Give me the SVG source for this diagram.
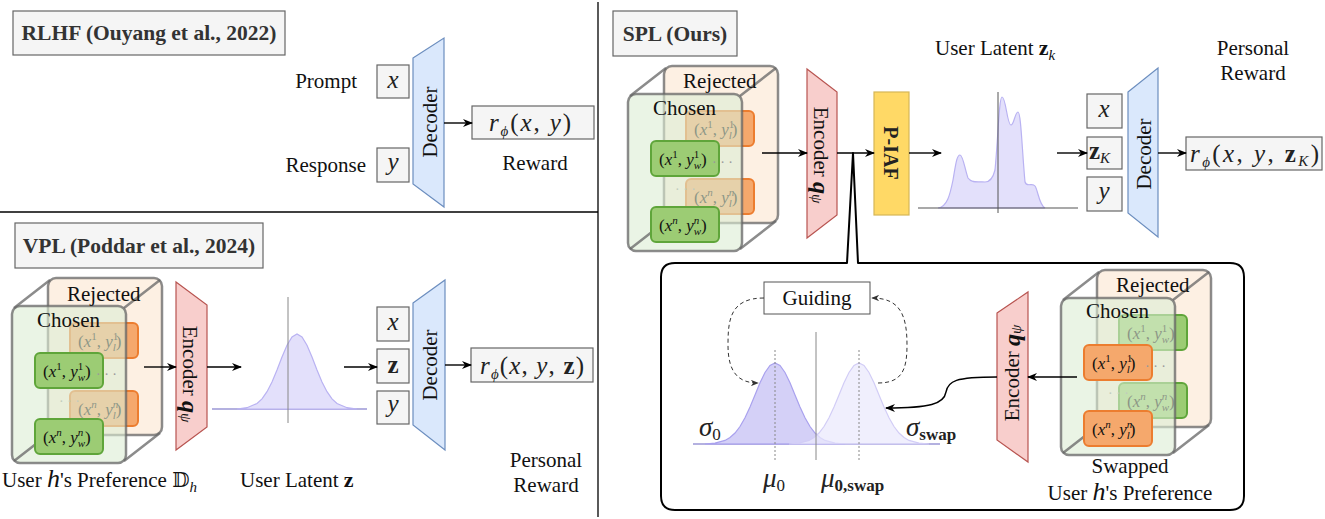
<svg xmlns="http://www.w3.org/2000/svg" width="1325" height="519" viewBox="0 0 1325 519">
<defs>
<marker id="ah" viewBox="0 0 10 8" refX="9" refY="4" markerWidth="10" markerHeight="8" orient="auto" markerUnits="userSpaceOnUse"><path d="M0,0 L10,4 L0,8 L3,4 Z" fill="#000"/></marker>
<marker id="ah2" viewBox="0 0 10 8" refX="9" refY="4" markerWidth="8" markerHeight="6.4" orient="auto" markerUnits="userSpaceOnUse"><path d="M0,0 L10,4 L0,8 L3,4 Z" fill="#333"/></marker>
<style>
.tb{fill:#f5f5f5;stroke:#666;stroke-width:1.2}
.tt{font-family:"Liberation Serif",serif;font-weight:bold;font-size:21.5px;fill:#333;text-anchor:middle}
.t{font-family:"Liberation Serif",serif;font-size:21px;fill:#111}
.c{text-anchor:middle}
.e{text-anchor:end}
.m{font-family:"Liberation Serif",serif;font-style:italic;font-size:25px;fill:#222}
.bz{font-style:normal;font-weight:bold}
.sub{font-size:15px}
.dec{fill:#dae8fc;stroke:#6c8ebf;stroke-width:1.2}
.enc{fill:#f8cecc;stroke:#b85450;stroke-width:1.2}
.piaf{fill:#ffd966;stroke:#d6b656;stroke-width:1.2}
.arr{fill:none;stroke:#000;stroke-width:1.4;marker-end:url(#ah)}
.dash{fill:none;stroke:#333;stroke-width:1;stroke-dasharray:4 3;marker-end:url(#ah2)}
.back{fill:#fdf0e3;stroke:#666;stroke-opacity:.75;stroke-width:2.5}
.front{fill:#dcecd4;fill-opacity:.6;stroke:#666;stroke-opacity:.75;stroke-width:2.5}
.edge{stroke:#666;stroke-opacity:.75;stroke-width:2.5;fill:none}
.gi{fill:#9ccc74;stroke:#5fa53a;stroke-width:2}
.oi{fill:#f5a86c;stroke:#ec7d2f;stroke-width:2}
.it{font-family:"Liberation Serif",serif;font-size:17px;fill:#111}
.i{font-style:italic}
.sp{font-size:11px}
.dots{font-family:"Liberation Serif",serif;font-size:14px;fill:#999}
.gau{fill:#e3e0fb;stroke:#b9b2f2;stroke-width:1.2}
.axis{stroke:#888;stroke-width:1;fill:none}
.div{stroke:#000;stroke-width:1.3}
.box{fill:#f5f5f5;stroke:#666;stroke-width:1.2}
.gm{font-family:"Liberation Serif",serif;font-style:italic;font-size:27px;fill:#222}
.gs{font-size:17px;font-style:normal}
</style>
</defs>

<g id="dividers">
<line class="div" x1="598" y1="2" x2="598" y2="517"/>
<line class="div" x1="0" y1="212" x2="598" y2="212"/>
</g>

<!-- ===== RLHF ===== -->
<g id="rlhf-title"><rect class="tb" x="13" y="11" width="272" height="44"/><text class="tt" x="149" y="40">RLHF (Ouyang et al., 2022)</text></g>
<g id="rlhf-prompt"><text class="t e" x="357" y="88">Prompt</text><rect class="box" x="377" y="65" width="32" height="33"/><text class="m c" x="393" y="88">x</text></g>
<g id="rlhf-response"><text class="t e" x="366" y="172">Response</text><rect class="box" x="377" y="148" width="32" height="34"/><text class="m c" x="393" y="170">y</text></g>
<g id="rlhf-decoder"><polygon class="dec" points="413,58 444,38 444,207 413,184"/><text class="t c" dominant-baseline="central" transform="translate(430,122) rotate(-90)">Decoder</text></g>
<g id="rlhf-reward"><rect class="box" x="472" y="106" width="122" height="33"/><text class="m" x="489" y="131" textLength="82" lengthAdjust="spacing">r<tspan class="sub" dy="5">ϕ</tspan><tspan font-style="normal" dy="-5">(</tspan>x<tspan font-style="normal">, </tspan>y<tspan font-style="normal">)</tspan></text><text class="t c" x="535" y="170">Reward</text></g>

<!-- ===== VPL ===== -->
<g id="vpl-title"><rect class="tb" x="15" y="223" width="248" height="45"/><text class="tt" x="139" y="253">VPL (Poddar et al., 2024)</text></g>

<g id="vpl-preference" transform="translate(12,306)">
<rect class="back" x="36" y="-28" width="114" height="157" rx="8"/>
<rect class="oi" x="58" y="17" width="68" height="35" rx="5"/>
<text class="it" x="66" y="41">(<tspan class="i">x</tspan><tspan class="sp" dy="-7">1</tspan><tspan dy="7">, </tspan><tspan class="i">y</tspan><tspan class="sp" dy="-7">1</tspan><tspan class="sp i" dx="-5.5" dy="11">l</tspan><tspan dy="-4">)</tspan></text>
<rect class="oi" x="58" y="85" width="68" height="35" rx="5"/>
<text class="dots" x="47" y="100">· · ·</text>
<text class="it" x="66" y="109">(<tspan class="i">x</tspan><tspan class="sp i" dy="-7">n</tspan><tspan dy="7">, </tspan><tspan class="i">y</tspan><tspan class="sp i" dy="-7">n</tspan><tspan class="sp i" dx="-5.5" dy="11">l</tspan><tspan dy="-4">)</tspan></text>
<rect class="front" x="0" y="0" width="114" height="157" rx="8"/>
<path class="edge" d="M2,2 L38,-26 M112,2 L148,-26 M2,155 L38,127 M112,155 L148,127"/>
<rect class="gi" x="23" y="47" width="68" height="35" rx="5"/>
<text class="it" x="31" y="71">(<tspan class="i">x</tspan><tspan class="sp" dy="-7">1</tspan><tspan dy="7">, </tspan><tspan class="i">y</tspan><tspan class="sp" dy="-7">1</tspan><tspan class="sp i" dx="-5.5" dy="11">w</tspan><tspan dy="-4">)</tspan></text>
<text class="dots" x="84" y="73">· · ·</text>
<rect class="gi" x="23" y="113" width="68" height="35" rx="5"/>
<text class="it" x="31" y="137">(<tspan class="i">x</tspan><tspan class="sp i" dy="-7">n</tspan><tspan dy="7">, </tspan><tspan class="i">y</tspan><tspan class="sp i" dy="-7">n</tspan><tspan class="sp i" dx="-5.5" dy="11">w</tspan><tspan dy="-4">)</tspan></text>
<text class="t" x="55" y="-5">Rejected</text>
<text class="t" x="25" y="21">Chosen</text>
</g>
<g id="vpl-pref-label"><text class="t" x="2" y="487">User <tspan class="i" font-size="26">h</tspan>'s Preference <tspan font-family="DejaVu Serif, DejaVu Sans, serif" font-size="20">𝔻</tspan><tspan class="i sub" dy="5">h</tspan></text></g>

<g id="vpl-encoder"><polygon class="enc" points="176,282 207,305 207,427 176,450"/><text class="t c" dominant-baseline="central" transform="translate(190,374) rotate(90)">Encoder <tspan class="i" font-weight="bold" font-size="24">q</tspan><tspan class="i sub" dy="4">ψ</tspan></text></g>

<g id="vpl-latent">
<line x1="212" y1="409" x2="367" y2="409" stroke="#b4b1e0" stroke-width="2"/>
<polygon class="gau" points="237,409 247,407.7 257,403.5 262,398.9 267,391.7 272,382 277,370 282,357 287,345.3 292,337 297,334 302,337 307,345.3 312,357 317,370 322,382 327,391.7 332,398.9 337,403.5 347,407.7 357,409"/>
<line class="axis" x1="288" y1="297" x2="288" y2="423"/>
<text class="t" x="240" y="487">User Latent <tspan font-weight="bold" font-size="22">z</tspan></text>
</g>

<g id="vpl-inputs">
<rect class="box" x="377" y="307" width="32" height="34"/><text class="m c" x="393" y="330">x</text>
<rect class="box" x="377" y="349" width="32" height="34"/><text class="m c bz" x="393" y="373">z</text>
<rect class="box" x="377" y="391" width="32" height="33"/><text class="m c" x="393" y="412">y</text>
</g>
<g id="vpl-decoder"><polygon class="dec" points="413,303 445,280 445,450 413,425"/><text class="t c" dominant-baseline="central" transform="translate(430,365) rotate(-90)">Decoder</text></g>
<g id="vpl-reward"><rect class="box" x="471" y="348" width="122" height="34"/><text class="m" x="480" y="374" textLength="104" lengthAdjust="spacing">r<tspan class="sub" dy="5">ϕ</tspan><tspan font-style="normal" dy="-5">(</tspan>x<tspan font-style="normal">, </tspan>y<tspan font-style="normal">, </tspan><tspan class="bz">z</tspan><tspan font-style="normal">)</tspan></text>
<text class="t c" x="546" y="467">Personal</text><text class="t c" x="546" y="492">Reward</text></g>

<!-- ===== SPL ===== -->
<g id="spl-title"><rect class="tb" x="613" y="11" width="124" height="45"/><text class="tt" x="675" y="41">SPL (Ours)</text></g>

<g id="spl-preference" transform="translate(628,94)">
<rect class="back" x="36" y="-28" width="114" height="157" rx="8"/>
<rect class="oi" x="58" y="17" width="68" height="35" rx="5"/>
<text class="it" x="66" y="41">(<tspan class="i">x</tspan><tspan class="sp" dy="-7">1</tspan><tspan dy="7">, </tspan><tspan class="i">y</tspan><tspan class="sp" dy="-7">1</tspan><tspan class="sp i" dx="-5.5" dy="11">l</tspan><tspan dy="-4">)</tspan></text>
<rect class="oi" x="58" y="85" width="68" height="35" rx="5"/>
<text class="dots" x="47" y="100">· · ·</text>
<text class="it" x="66" y="109">(<tspan class="i">x</tspan><tspan class="sp i" dy="-7">n</tspan><tspan dy="7">, </tspan><tspan class="i">y</tspan><tspan class="sp i" dy="-7">n</tspan><tspan class="sp i" dx="-5.5" dy="11">l</tspan><tspan dy="-4">)</tspan></text>
<rect class="front" x="0" y="0" width="114" height="157" rx="8"/>
<path class="edge" d="M2,2 L38,-26 M112,2 L148,-26 M2,155 L38,127 M112,155 L148,127"/>
<rect class="gi" x="23" y="47" width="68" height="35" rx="5"/>
<text class="it" x="31" y="71">(<tspan class="i">x</tspan><tspan class="sp" dy="-7">1</tspan><tspan dy="7">, </tspan><tspan class="i">y</tspan><tspan class="sp" dy="-7">1</tspan><tspan class="sp i" dx="-5.5" dy="11">w</tspan><tspan dy="-4">)</tspan></text>
<text class="dots" x="84" y="73">· · ·</text>
<rect class="gi" x="23" y="113" width="68" height="35" rx="5"/>
<text class="it" x="31" y="137">(<tspan class="i">x</tspan><tspan class="sp i" dy="-7">n</tspan><tspan dy="7">, </tspan><tspan class="i">y</tspan><tspan class="sp i" dy="-7">n</tspan><tspan class="sp i" dx="-5.5" dy="11">w</tspan><tspan dy="-4">)</tspan></text>
<text class="t" x="55" y="-6">Rejected</text>
<text class="t" x="25" y="21">Chosen</text>
</g>

<g id="spl-encoder"><polygon class="enc" points="807,69 837,92 837,215 807,238"/><text class="t c" dominant-baseline="central" transform="translate(821,155) rotate(90)">Encoder <tspan class="i" font-weight="bold" font-size="24">q</tspan><tspan class="i sub" dy="4">ψ</tspan></text></g>
<g id="spl-piaf"><rect class="piaf" x="874" y="92" width="35" height="123"/><text class="tt" style="fill:#222;font-size:20px" dominant-baseline="central" transform="translate(891,153) rotate(90)">P-IAF</text></g>

<g id="spl-latent">
<text class="t" x="935" y="55">User Latent <tspan font-weight="bold" font-size="22">z</tspan><tspan class="i sub" dy="5">k</tspan></text>
<path d="M938,208 C947,207 950,195 953,180 C956,162 957,155 960,155 C963,155 965,170 968,178 C972,184 980,181 985,182 C990,182 993,178 995,170 C998,140 999,97 1002,97 C1006,97 1007,125 1011,125 C1014,125 1015,112 1018,112 C1021,112 1022,150 1025,182 C1027,188 1032,182 1035,186 C1038,190 1039,205 1045,208 Z" class="gau"/>
<line x1="918" y1="208" x2="1078" y2="208" stroke="#555" stroke-width="1.2"/>
<line x1="998" y1="92" x2="998" y2="213" stroke="#555" stroke-width="1"/>
</g>

<g id="spl-inputs">
<rect class="box" x="1087" y="94" width="35" height="34"/><text class="m c" x="1104" y="117">x</text>
<rect class="box" x="1087" y="137" width="35" height="32"/><text class="m" x="1089" y="159"><tspan class="bz">z</tspan><tspan class="sub" dy="4">K</tspan></text>
<rect class="box" x="1087" y="177" width="35" height="34"/><text class="m c" x="1104" y="199">y</text>
</g>
<g id="spl-decoder"><polygon class="dec" points="1128,92 1158,68 1158,237 1128,213"/><text class="t c" dominant-baseline="central" transform="translate(1144,154) rotate(-90)">Decoder</text></g>
<g id="spl-reward"><rect class="box" x="1186" y="137" width="136" height="33"/><text class="m" x="1190" y="162" textLength="129" lengthAdjust="spacing">r<tspan class="sub" dy="5">ϕ</tspan><tspan font-style="normal" dy="-5">(</tspan>x<tspan font-style="normal">, </tspan>y<tspan font-style="normal">, </tspan><tspan class="bz">z</tspan><tspan class="sub" dy="4">K</tspan><tspan font-style="normal" dy="-4">)</tspan></text>
<text class="t c" x="1253" y="55">Personal</text><text class="t c" x="1253" y="80">Reward</text></g>

<!-- callout -->
<g id="callout">
<path d="M847,263 L675,263 Q661,263 661,277 L661,496 Q661,510 675,510 L1230,510 Q1244,510 1244,496 L1244,277 Q1244,263 1230,263 L858,263 L853,153 Z" fill="#fff" stroke="#000" stroke-width="2" stroke-linejoin="round"/>
</g>

<g id="guiding"><rect x="764" y="282" width="106" height="32" fill="#fff" stroke="#555" stroke-width="1"/><text class="t c" x="817" y="305">Guiding</text></g>

<g id="swap-distributions">
<line x1="693" y1="444" x2="940" y2="444" stroke="#b4b1e0" stroke-width="2"/>
<polygon points="705,444 715,443.1 725,440.4 730,437.5 735,433 740,426.5 745,417.7 750,406.9 755,394.9 760,382.8 765,372.5 770,365.5 775,363 780,365.5 785,372.5 790,382.8 795,394.9 800,406.9 805,417.7 810,426.5 815,433 820,437.5 825,440.4 835,443.1 845,444" fill="#cdc8f6" fill-opacity=".85" stroke="#a9a1ee" stroke-width="1.2"/>
<polygon points="789,444 799,443.1 809,440.4 814,437.5 819,433 824,426.5 829,417.7 834,406.9 839,394.9 844,382.8 849,372.5 854,365.5 859,363 864,365.5 869,372.5 874,382.8 879,394.9 884,406.9 889,417.7 894,426.5 899,433 904,437.5 909,440.4 919,443.1 929,444" fill="#ebe9fc" fill-opacity=".75" stroke="#d2cdf6" stroke-width="1.2"/>
<line class="axis" x1="816" y1="332" x2="816" y2="460" stroke="#777"/>
<line x1="775" y1="350" x2="775" y2="460" stroke="#888" stroke-width="1" stroke-dasharray="2 2"/>
<line x1="859" y1="350" x2="859" y2="460" stroke="#888" stroke-width="1" stroke-dasharray="2 2"/>
<text class="gm" x="699" y="436">σ<tspan class="gs" dy="4">0</tspan></text>
<text class="gm" x="906" y="436">σ<tspan class="gs" font-weight="bold" dy="4">swap</tspan></text>
<text class="gm" x="763" y="487">μ<tspan class="gs" dy="4">0</tspan></text>
<text class="gm" x="821" y="487">μ<tspan class="gs" font-weight="bold" dy="4">0,swap</tspan></text>
</g>

<g id="swap-encoder"><polygon class="enc" points="997,313 1028,292 1028,462 997,440"/><text class="t c" dominant-baseline="central" transform="translate(1012,373) rotate(-90)">Encoder <tspan class="i" font-weight="bold" font-size="24">q</tspan><tspan class="i sub" dy="4">ψ</tspan></text></g>

<g id="swap-preference" transform="translate(1061,298)">
<rect class="back" x="36" y="-28" width="114" height="157" rx="8"/>
<rect class="gi" x="58" y="17" width="68" height="35" rx="5"/>
<text class="it" x="66" y="41">(<tspan class="i">x</tspan><tspan class="sp" dy="-7">1</tspan><tspan dy="7">, </tspan><tspan class="i">y</tspan><tspan class="sp" dy="-7">1</tspan><tspan class="sp i" dx="-5.5" dy="11">w</tspan><tspan dy="-4">)</tspan></text>
<rect class="gi" x="58" y="85" width="68" height="35" rx="5"/>
<text class="dots" x="47" y="100">· · ·</text>
<text class="it" x="66" y="109">(<tspan class="i">x</tspan><tspan class="sp i" dy="-7">n</tspan><tspan dy="7">, </tspan><tspan class="i">y</tspan><tspan class="sp i" dy="-7">n</tspan><tspan class="sp i" dx="-5.5" dy="11">w</tspan><tspan dy="-4">)</tspan></text>
<rect class="front" x="0" y="0" width="114" height="157" rx="8"/>
<path class="edge" d="M2,2 L38,-26 M112,2 L148,-26 M2,155 L38,127 M112,155 L148,127"/>
<rect class="oi" x="23" y="47" width="68" height="35" rx="5"/>
<text class="it" x="31" y="71">(<tspan class="i">x</tspan><tspan class="sp" dy="-7">1</tspan><tspan dy="7">, </tspan><tspan class="i">y</tspan><tspan class="sp" dy="-7">1</tspan><tspan class="sp i" dx="-5.5" dy="11">l</tspan><tspan dy="-4">)</tspan></text>
<text class="dots" x="84" y="73">· · ·</text>
<rect class="oi" x="23" y="113" width="68" height="35" rx="5"/>
<text class="it" x="31" y="137">(<tspan class="i">x</tspan><tspan class="sp i" dy="-7">n</tspan><tspan dy="7">, </tspan><tspan class="i">y</tspan><tspan class="sp i" dy="-7">n</tspan><tspan class="sp i" dx="-5.5" dy="11">l</tspan><tspan dy="-4">)</tspan></text>
<text class="t" x="55" y="-6">Rejected</text>
<text class="t" x="25" y="20">Chosen</text>
</g>
<g id="swap-label"><text class="t c" x="1130" y="473">Swapped</text><text class="t c" x="1130" y="500">User <tspan class="i" font-size="26">h</tspan>'s Preference</text></g>

<!-- connectors -->
<g id="connectors">
<line class="arr" x1="444" y1="123" x2="472" y2="123"/>
<line class="arr" x1="144" y1="367" x2="176" y2="367"/>
<line class="arr" x1="207" y1="367" x2="241" y2="367"/>
<line class="arr" x1="344" y1="367" x2="377" y2="367"/>
<line class="arr" x1="445" y1="365" x2="471" y2="365"/>
<line class="arr" x1="762" y1="153" x2="807" y2="153"/>
<line class="arr" x1="837" y1="153" x2="874" y2="153"/>
<line class="arr" x1="909" y1="153" x2="941" y2="153"/>
<line class="arr" x1="1057" y1="153" x2="1087" y2="153"/>
<line class="arr" x1="1158" y1="153" x2="1186" y2="153"/>
<line class="arr" x1="1077" y1="377" x2="1028" y2="377"/>
<path class="arr" d="M997,377 C955,377 948,381 946,392 C944,404 930,408 886,408"/>
<path class="dash" d="M764,298 C730,298 728,320 728,345 C728,372 738,383 758,383"/>
<path class="dash" d="M878,383 C902,383 907,370 907,345 C907,315 900,298 872,298"/>
</g>
</svg>
